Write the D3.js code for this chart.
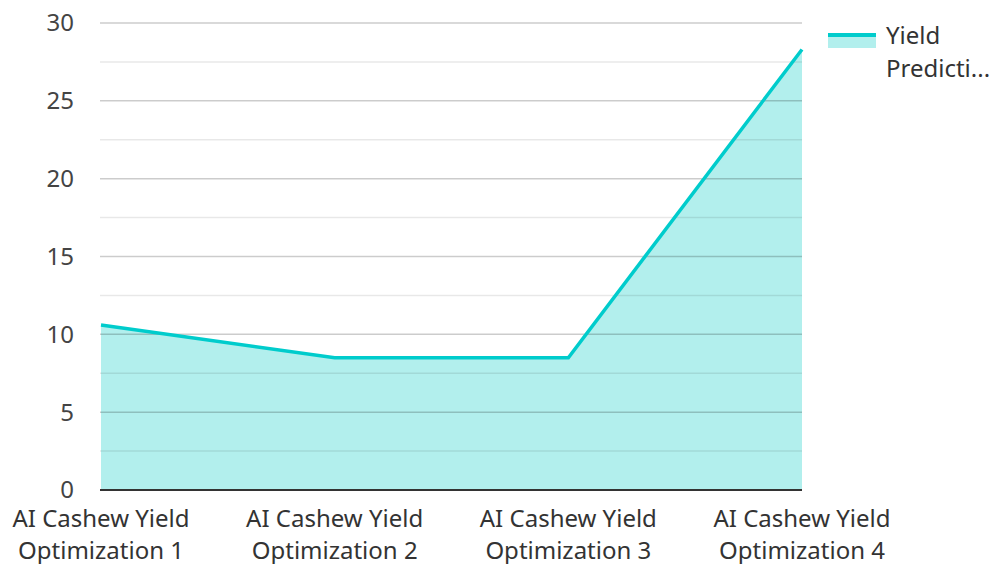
<!DOCTYPE html>
<html>
<head>
<meta charset="utf-8">
<script src="https://cdn.jsdelivr.net/npm/d3@7"></script>
<style>
  body { margin: 0; background: #fff; }
  text { font-family: "Noto Sans", "Open Sans", sans-serif; }
</style>
</head>
<body>
<div id="chart"></div>
<script>
const categories = ["AI Cashew Yield Optimization 1", "AI Cashew Yield Optimization 2",
  "AI Cashew Yield Optimization 3", "AI Cashew Yield Optimization 4"];
const yieldValues = [10.6, 8.5, 8.5, 28.3];
const majorTicks = [0, 5, 10, 15, 20, 25, 30];
const minorTicks = [2.5, 7.5, 12.5, 17.5, 22.5, 27.5];
const seriesName = "Yield Prediction";

const W = 994, H = 564;
const margin = { top: 23, right: 192, bottom: 74, left: 100 };
const width = W - margin.left - margin.right,
  height = H - margin.top - margin.bottom;

const svg = d3.select("#chart").append("svg")
  .attr("width", W).attr("height", H);

const g = svg.append("g")
  .attr("transform", `translate(${margin.left},${margin.top})`);

const x = d3.scalePoint().domain(categories).range([1, width]);
const y = d3.scaleLinear().domain([0, 30]).range([height, 0]);

// area first, grid lines drawn over it
const area = d3.area()
  .x((d, i) => x(categories[i]))
  .y0(y(0))
  .y1(d => y(d));
g.append("path")
  .datum(yieldValues)
  .attr("d", area)
  .attr("fill", "#b2efed");

// grid
g.selectAll(".minor").data(minorTicks).join("line")
  .attr("x1", 0).attr("x2", width)
  .attr("y1", d => y(d)).attr("y2", d => y(d))
  .attr("stroke", "#000").attr("stroke-opacity", 0.09).attr("stroke-width", 1.5);
g.selectAll(".major").data(majorTicks.filter(d => d > 0)).join("line")
  .attr("x1", 0).attr("x2", width)
  .attr("y1", d => y(d)).attr("y2", d => y(d))
  .attr("stroke", "#000").attr("stroke-opacity", 0.2).attr("stroke-width", 1.5);

// baseline
g.append("line")
  .attr("x1", 0).attr("x2", width)
  .attr("y1", y(0)).attr("y2", y(0))
  .attr("stroke", "#333").attr("stroke-width", 2);

// line
const line = d3.line()
  .x((d, i) => x(categories[i]))
  .y(d => y(d));
g.append("path")
  .datum(yieldValues)
  .attr("d", line)
  .attr("fill", "none")
  .attr("stroke", "#00cccc")
  .attr("stroke-width", 3.5)
  .attr("stroke-linejoin", "miter");

// y tick labels
g.selectAll(".ylab").data(majorTicks).join("text")
  .attr("x", -26).attr("y", d => y(d))
  .attr("dy", "0.35em")
  .attr("text-anchor", "end")
  .attr("font-size", 24)
  .attr("fill", "#444")
  .text(d => d);

// x labels, wrapped into two lines
g.selectAll(".xlab").data(categories).join("text")
  .attr("transform", d => `translate(${x(d)},${height + 37})`)
  .attr("text-anchor", "middle")
  .attr("font-size", 24)
  .attr("fill", "#333")
  .each(function (d) {
    const words = d.split(" ");
    const l1 = words.slice(0, 3).join(" "), l2 = words.slice(3).join(" ");
    d3.select(this).append("tspan").attr("x", 0).attr("y", 0).text(l1);
    d3.select(this).append("tspan").attr("x", 0).attr("y", 32).text(l2);
  });

// legend
const lg = svg.append("g").attr("transform", "translate(828,35)");
lg.append("rect").attr("x", 0).attr("y", 0).attr("width", 48).attr("height", 13)
  .attr("fill", "#b2efed");
lg.append("line").attr("x1", 0).attr("x2", 48).attr("y1", 0).attr("y2", 0)
  .attr("stroke", "#00cccc").attr("stroke-width", 4);
const lt = lg.append("text").attr("font-size", 24).attr("fill", "#333");
lt.append("tspan").attr("x", 58).attr("y", 9).text(seriesName.split(" ")[0]);
lt.append("tspan").attr("x", 58).attr("y", 42).text(seriesName.split(" ")[1].slice(0, 8) + "...");
</script>
</body>
</html>
